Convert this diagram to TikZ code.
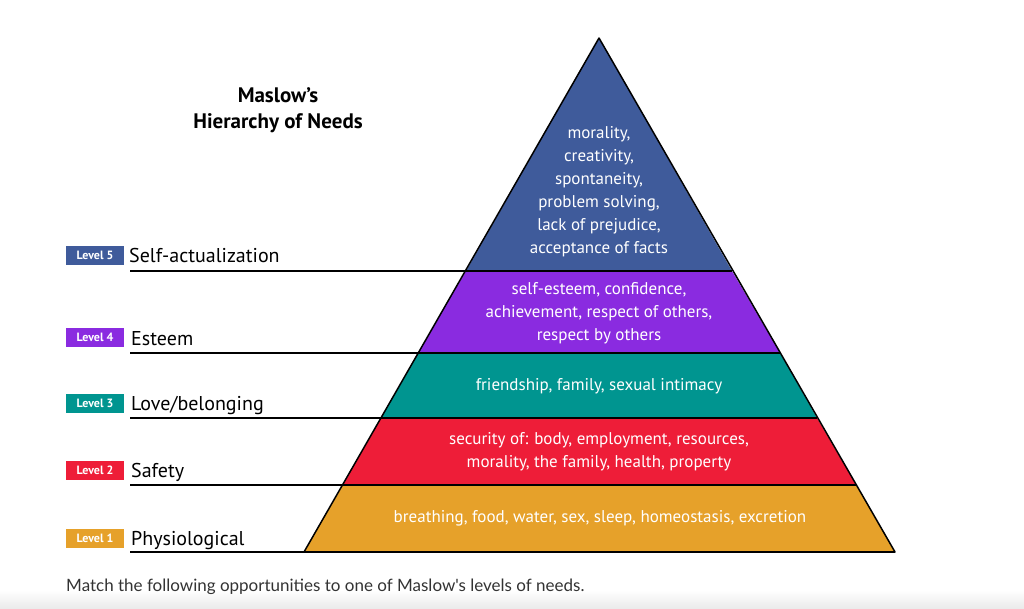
\documentclass[tikz,border=0pt]{standalone}
\usepackage{fontspec}
\setmainfont{PT Sans}
\newfontfamily\capfont{Lato}
\definecolor{cblue}{HTML}{3F5B9B}
\definecolor{cpurple}{HTML}{8A2BE0}
\definecolor{cteal}{HTML}{009590}
\definecolor{cred}{HTML}{EE1D38}
\definecolor{corange}{HTML}{E6A12A}
\definecolor{ctext}{HTML}{333333}
\begin{document}
\begin{tikzpicture}[x=1pt,y=-1pt,
  band/.style={draw=black,line width=1.5pt,line join=round},
  btext/.style={text=white,font=\fontsize{17}{23}\selectfont,align=center},
  lvl/.style={text=white,font=\bfseries\fontsize{12}{12}\selectfont,inner sep=2.5pt,minimum height=19pt,minimum width=58pt},
  lname/.style={anchor=base west,font=\fontsize{20}{20}\selectfont,text=black,inner sep=0pt},
  rule/.style={line width=1.3pt}]
\useasboundingbox (0,0) rectangle (1024,608);
\fill[white] (0,0) rectangle (1024,608);
\shade[top color=white,bottom color=black!8] (0,590) rectangle (1024,608);
% pyramid boundaries
\coordinate (A) at (599,38);
\coordinate (L5) at (466,271); \coordinate (R5) at (732,271);
\coordinate (L4) at (418,353); \coordinate (R4) at (780,353);
\coordinate (L3) at (381,418); \coordinate (R3) at (817,418);
\coordinate (L2) at (343,485); \coordinate (R2) at (856,485);
\coordinate (L1) at (304,552); \coordinate (R1) at (895,552);
\fill[corange] (L2)--(R2)--(R1)--(L1)--cycle;
\fill[cred] (L3)--(R3)--(R2)--(L2)--cycle;
\fill[cteal] (L4)--(R4)--(R3)--(L3)--cycle;
\fill[cpurple] (L5)--(R5)--(R4)--(L4)--cycle;
\fill[cblue] (A)--(R5)--(L5)--cycle;
\draw[band] (A)--(R1)--(L1)--cycle;
\draw[rule] (130,271)--(R5);
\draw[rule] (130,353)--(R4);
\draw[rule] (130,418)--(R3);
\draw[rule] (130,485)--(R2);
\draw[rule] (130,552)--(R1);
% texts
\node[btext] (t5) at (599,192) {morality,\\creativity,\\spontaneity,\\problem solving,\\lack of prejudice,\\acceptance of facts};
\node[btext] (t4) at (599,313) {self-esteem, confidence,\\achievement, respect of others,\\respect by others};
\node[btext] (t3) at (599,386) {friendship, family, sexual intimacy};
\node[btext] (t2) at (599,452) {security of: body, employment, resources,\\morality, the family, health, property};
\node[btext] (t1) at (600,518) {breathing, food, water, sex, sleep, homeostasis, excretion};
\node[font=\bfseries\fontsize{21}{26}\selectfont,align=center] (title) at (278,110) {Maslow’s\\Hierarchy of Needs};
% level labels
\node[lvl,fill=cblue] (b5) at (95,255) {Level 5};
\node[lvl,fill=cpurple] (b4) at (95,337) {Level 4};
\node[lvl,fill=cteal] (b3) at (95,403) {Level 3};
\node[lvl,fill=cred] (b2) at (95,470) {Level 2};
\node[lvl,fill=corange] (b1) at (95,538) {Level 1};
\node[lname] (n5) at (129,262) {Self-actualization};
\node[lname] (n4) at (131,345) {Esteem};
\node[lname] (n3) at (131,410) {Love/belonging};
\node[lname] (n2) at (131,477) {Safety};
\node[lname] (n1) at (131,545) {Physiological};
\node[anchor=base west,inner sep=0pt,text=ctext,font=\capfont\fontsize{17}{17}\selectfont] (cap) at (66,591) {Match the following opportunities to one of Maslow's levels of needs.};
\end{tikzpicture}
\end{document}
